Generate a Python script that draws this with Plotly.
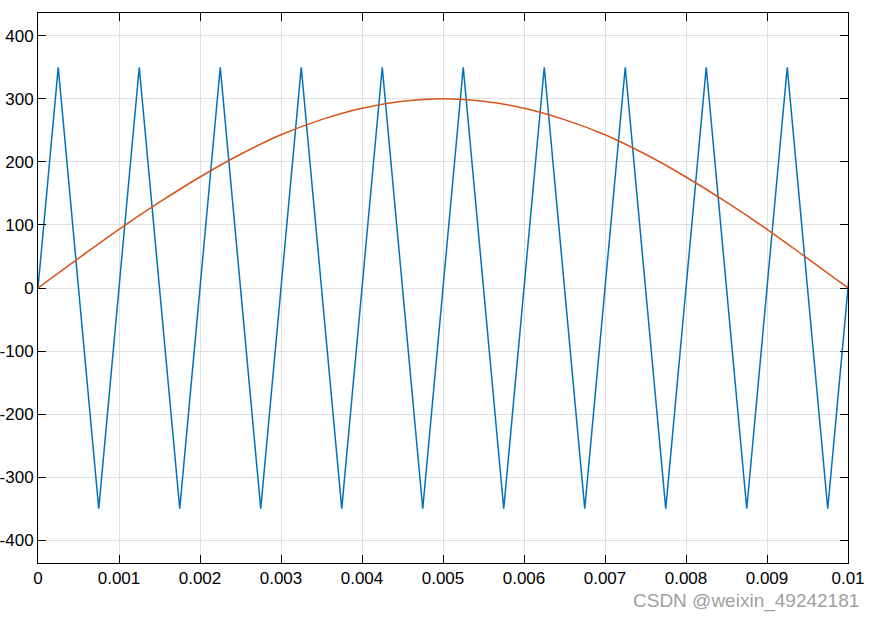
import plotly.graph_objects as go

# Triangle carrier (vertices)
tri_t = [0, 0.00025, 0.00075, 0.00125, 0.00175, 0.00225, 0.00275, 0.00325, 0.00375,
         0.00425, 0.00475, 0.00525, 0.00575, 0.00625, 0.00675, 0.00725, 0.00775,
         0.00825, 0.00875, 0.00925, 0.00975, 0.01025]
tri_v = [0, 350, -350, 350, -350, 350, -350, 350, -350, 350, -350, 350, -350,
         350, -350, 350, -350, 350, -350, 350, -350, 350]

# Reference (modulating) wave
ref_t = [0, 0.0005, 0.001, 0.0015, 0.002, 0.0025, 0.003, 0.0035, 0.004, 0.0045, 0.005,
         0.0055, 0.006, 0.0065, 0.007, 0.0075, 0.008, 0.0085, 0.009, 0.0095, 0.01]
ref_v = [0, 47, 93, 136, 176, 212, 243, 267, 285, 296, 300,
         296, 285, 267, 243, 212, 176, 136, 93, 47, 0]

x_ticks = [0, 0.001, 0.002, 0.003, 0.004, 0.005, 0.006, 0.007, 0.008, 0.009, 0.01]
x_labels = ["0", "0.001", "0.002", "0.003", "0.004", "0.005", "0.006", "0.007", "0.008", "0.009", "0.01"]
y_ticks = [-400, -300, -200, -100, 0, 100, 200, 300, 400]
y_labels = ["-400", "-300", "-200", "-100", "0", "100", "200", "300", "400"]

fig = go.Figure()
fig.add_trace(go.Scatter(x=tri_t, y=tri_v, mode="lines",
                         line=dict(color="#0072BD", width=1.5), showlegend=False))
fig.add_trace(go.Scatter(x=ref_t, y=ref_v, mode="lines",
                         line=dict(color="#D95319", width=1.5, shape="spline"), showlegend=False))

axis_common = dict(showline=True, linecolor="black", linewidth=1, mirror="ticks",
                   ticks="inside", ticklen=8, tickcolor="black", tickwidth=1,
                   showgrid=True, gridcolor="#dfdfdf", gridwidth=1, zeroline=False,
                   automargin=False,
                   tickfont=dict(family="Liberation Sans, Arial", size=17, color="black"))

fig.update_xaxes(range=[0, 0.01], tickvals=x_ticks, ticktext=x_labels, **axis_common)
fig.update_yaxes(range=[-436, 436], tickvals=y_ticks, ticktext=y_labels, **axis_common)

fig.add_annotation(text="CSDN @weixin_49242181", xref="paper", yref="paper",
                   x=1.016, y=-0.045, xanchor="right", yanchor="top", showarrow=False,
                   font=dict(family="Liberation Sans, Arial", size=19, color="#a0a0a0"))

fig.update_layout(width=876, height=619, margin=dict(l=38, r=28, t=13, b=56),
                  plot_bgcolor="white", paper_bgcolor="white")

fig.write_html("out.html", config={"displayModeBar": False},
               post_script="document.body.style.margin='0';")
